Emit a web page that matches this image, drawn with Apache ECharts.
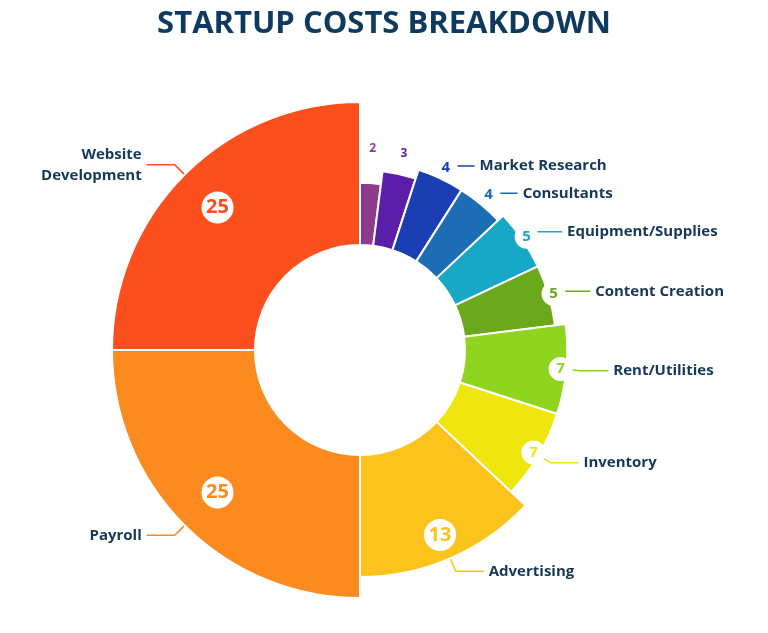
<!DOCTYPE html>
<html>
<head>
<meta charset="utf-8">
<script src="https://cdn.jsdelivr.net/npm/echarts@6/dist/echarts.min.js"></script>
<style>html,body{margin:0;padding:0;background:#fff}#chart{width:768px;height:633px}</style>
</head>
<body>
<div id="chart"></div>
<script>
var categories = ['Insurance', 'Licenses/Permits', 'Market Research', 'Consultants', 'Equipment/Supplies',
    'Content Creation', 'Rent/Utilities', 'Inventory', 'Advertising', 'Payroll', 'Website\nDevelopment'];
var costs = [2, 3, 4, 4, 5, 5, 7, 7, 13, 25, 25];
var colors = ['#8e3a8e', '#5a1ea8', '#1b3fb2', '#1c6db3', '#17a8c6', '#6aa81c', '#8fd41f', '#eee60c', '#fdc31d', '#fb8a1f', '#fc4f1e'];

var center = [360, 350];
var innerR = 105;
// outer radius grows with the value (fitted to the picture)
function outerR(v) { return 145 + 32 * Math.log(v); }

var series = [];
for (var k = 0; k < costs.length; k++) {
    var data = [];
    for (var i = 0; i < costs.length; i++) {
        var on = i === k;
        data.push({
            name: categories[i],
            value: costs[i],
            itemStyle: { color: on ? colors[i] : 'rgba(0,0,0,0)', borderColor: on ? '#fff' : 'rgba(0,0,0,0)', borderWidth: 2 },
            label: { show: on },
            labelLine: { show: on, lineStyle: { color: colors[i], width: 1.5 } }
        });
    }
    series.push({
        type: 'pie',
        silent: true,
        center: center,
        radius: [innerR, outerR(costs[k])],
        startAngle: 90,
        clockwise: true,
        avoidLabelOverlap: false,
        label: {
            position: 'outside',
            formatter: '{b}',
            color: '#15385a',
            fontFamily: 'Open Sans',
            fontWeight: 'bold',
            fontSize: 15,
            lineHeight: 21
        },
        labelLine: { length: 14, length2: 28 },
        data: data
    });
}

// number badges inside the slices
var badgeData = [];
for (var j = 0; j < costs.length; j++) {
    var big = costs[j] >= 10;
    badgeData.push({
        name: categories[j],
        value: costs[j],
        itemStyle: { color: 'rgba(0,0,0,0)' },
        label: {
            rich: {
                n: {
                    backgroundColor: '#fff',
                    color: colors[j],
                    width: big ? 32 : (costs[j] <= 3 ? 18 : 24),
                    height: big ? 32 : (costs[j] <= 3 ? 18 : 24),
                    borderRadius: 16,
                    align: 'center',
                    fontSize: big ? 20 : (costs[j] <= 3 ? 12 : 15),
                    fontWeight: 'bold',
                    fontFamily: 'Open Sans'
                }
            }
        }
    });
}
series.push({
    type: 'pie',
    silent: true,
    center: center,
    radius: [innerR, 292],
    startAngle: 90,
    clockwise: true,
    label: { position: 'inside', formatter: '{n|{c}}' },
    labelLine: { show: false },
    data: badgeData
});

var chart = echarts.init(document.getElementById('chart'));
chart.setOption({
    animation: false,
    title: {
        text: 'STARTUP COSTS BREAKDOWN',
        left: 'center',
        top: 4,
        textStyle: { color: '#0f3a5f', fontSize: 31, fontWeight: 'bold', fontFamily: 'Open Sans' }
    },
    series: series
});
</script>
</body>
</html>
